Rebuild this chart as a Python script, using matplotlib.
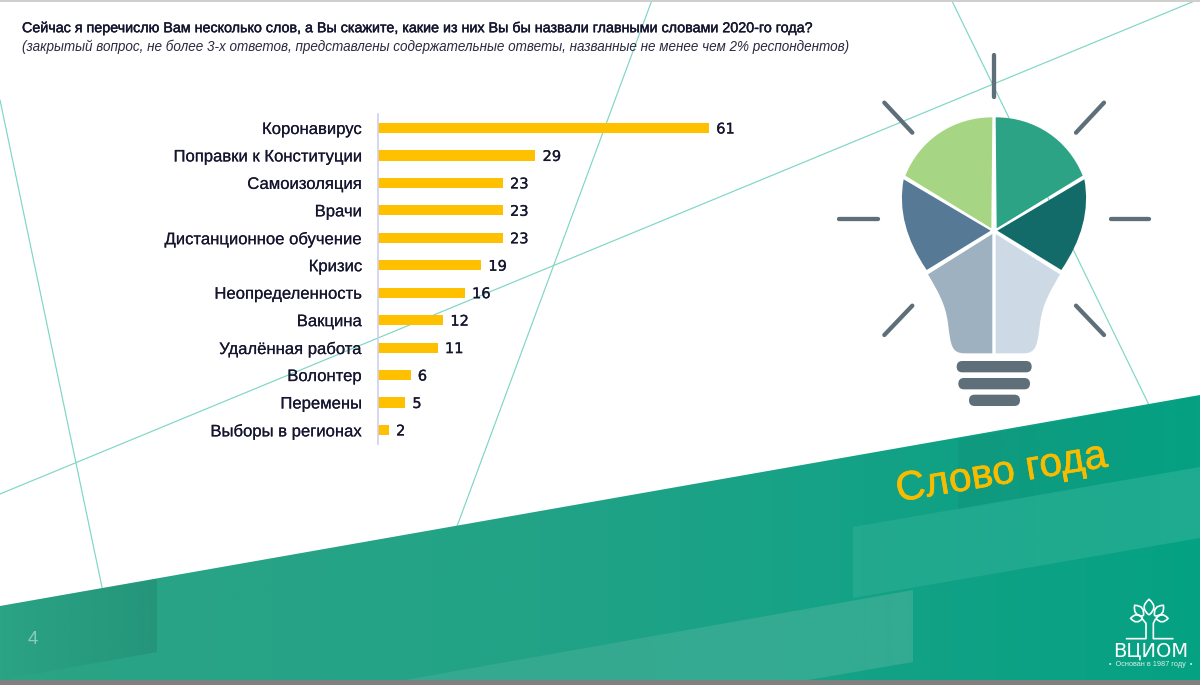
import numpy as np
import matplotlib
matplotlib.use("Agg")
import matplotlib.pyplot as plt
import matplotlib.patheffects as pe
from matplotlib.colors import to_rgb
from matplotlib.path import Path
from matplotlib.patches import PathPatch, Polygon, FancyBboxPatch

categories = ["Коронавирус", "Поправки к Конституции", "Самоизоляция", "Врачи",
              "Дистанционное обучение", "Кризис", "Неопределенность", "Вакцина",
              "Удалённая работа", "Волонтер", "Перемены", "Выборы в регионах"]
values = [61, 29, 23, 23, 23, 19, 16, 12, 11, 6, 5, 2]

title_main = "Сейчас я перечислю Вам несколько слов, а Вы скажите, какие из них Вы бы назвали главными словами 2020-го года?"
title_sub = "(закрытый вопрос, не более 3-х ответов, представлены содержательные ответы, названные не менее чем 2% респондентов)"
slide_word = "Слово года"

W, H = 1200, 685
plt.rcParams["font.family"] = ["Liberation Sans", "DejaVu Sans"]
fig = plt.figure(figsize=(12, 6.85), dpi=100, facecolor="white")
bg = fig.add_axes([0, 0, 1, 1], zorder=0)
bg.set_xlim(0, W); bg.set_ylim(H, 0); bg.axis("off")
INK = "#15152F"
semi = [pe.withStroke(linewidth=0.3, foreground=INK)]

def fade(poly, color, a0, a1, z, stops=None):
    """Horizontal gradient fill clipped to a polygon."""
    xs = [p[0] for p in poly]; ys = [p[1] for p in poly]
    t = np.linspace(0, 1, 256)
    img = np.zeros((1, 256, 4))
    if stops:
        pos = [s[0] for s in stops]
        for c in range(3):
            img[0, :, c] = np.interp(t, pos, [to_rgb(s[1])[c] for s in stops])
        img[0, :, 3] = 1
    else:
        img[0, :, :3] = to_rgb(color)
        img[0, :, 3] = a0 + (a1 - a0) * t
    clip = Polygon(poly, transform=bg.transData, fc="none", ec="none")
    bg.add_patch(clip)
    im = bg.imshow(img, extent=(min(xs), max(xs), max(ys), min(ys)), aspect="auto", zorder=z, interpolation="bilinear")
    im.set_clip_path(clip)

# thin decorative lines
LINE = "#7FD6C6"
for (x0, y0, x1, y1) in [(0, 100, 103, 592), (0, 494, 1197, 0), (652, 0, 456, 529), (951.5, 0, 1150, 407)]:
    bg.plot([x0, x1], [y0, y1], color=LINE, lw=0.85, zorder=1)

# top edge and green band
bg.add_patch(Polygon([(0, 0), (1200, 0), (1200, 2), (0, 2)], fc="#CFCFCF", ec="none", zorder=1.5))
fade([(0, 606), (1200, 395), (1200, 680), (0, 680)], None, 1, 1, 2,
     stops=[(0, "#2CA385"), (0.45, "#22A387"), (0.72, "#14A286"), (1, "#05A183")])
fade([(0, 606), (157, 579), (157, 652), (0, 680)], "#1F7F69", 0.0, 0.38, 2.2)
fade([(958, 439), (1200, 397), (1200, 467), (958, 510)], "#128A73", 0.32, 0.0, 2.2)
fade([(853, 527), (1200, 467), (1200, 538), (853, 598)], "#45BBA2", 0.3, 0.4, 2.3)
fade([(405, 680), (913, 590), (913, 662), (808, 680)], "#55B5A0", 0.35, 0.5, 2.3)
bg.add_patch(Polygon([(0, 680), (1200, 680), (1200, 685), (0, 685)], fc="#808080", ec="none", zorder=2.4))
bg.set_xlim(0, W); bg.set_ylim(H, 0)

bg.text(33, 639, "4", color="#8CCBBB", fontsize=13.5, ha="center", va="center", zorder=3)
bg.text(1002, 473, slide_word, color="#F7BC00", fontsize=29.3, rotation=9.5, rotation_mode="anchor",
        ha="center", va="center", zorder=3,
        path_effects=[pe.withStroke(linewidth=0.5, foreground="#F7BC00")])

# bulb drawn in zoom-space coordinates
def Z(x, y):
    return 820 + x / 3, 40 + y / 3
def M(p, mirror):
    return (1044 - p[0], p[1]) if mirror else p
def shape(pts, codes, color, mirror=False):
    v = [Z(*M(p, mirror)) for p in pts]
    bg.add_patch(PathPatch(Path(v, codes), fc=color, ec="none", zorder=4))
MV, C4, LT, CL = Path.MOVETO, Path.CURVE4, Path.LINETO, Path.CLOSEPOLY
top_pts = [(527, 232), (645, 232), (745, 300), (788, 407), (530, 565), (527, 232)]
top_c = [MV, C4, C4, C4, LT, CL]
mid_pts = [(793, 418), (810, 510), (785, 600), (724, 690), (532, 572), (793, 418)]
mid_c = [MV, C4, C4, C4, LT, CL]
low_pts = [(527, 582), (720, 703), (690, 755), (668, 790), (660, 850), (652, 915), (650, 940), (610, 940), (527, 940), (527, 582)]
low_c = [MV, LT, C4, C4, C4, C4, C4, C4, LT, CL]
shape(top_pts, top_c, "#2CA385"); shape(top_pts, top_c, "#A6D683", True)
shape(mid_pts, mid_c, "#126B69"); shape(mid_pts, mid_c, "#567995", True)
shape(low_pts, low_c, "#CDDAE5"); shape(low_pts, low_c, "#9DB1C0", True)

RAY = "#5F6F7A"
for a, b in [((522, 45), (522, 170)), ((58, 537), (175, 537)), ((872, 537), (988, 537)),
             ((193, 188), (277, 278)), ((852, 188), (768, 278)), ((277, 797), (193, 885)), ((768, 797), (852, 885))]:
    p, q = Z(*a), Z(*b)
    bg.plot([p[0], q[0]], [p[1], q[1]], color=RAY, lw=3.1, solid_capstyle="round", zorder=5)
for x0, x1, y0, y1 in [(410, 635, 963, 997), (415, 630, 1014, 1048), (447, 600, 1064, 1098)]:
    a, b = Z(x0, y0), Z(x1, y1)
    h = b[1] - a[1]
    bg.add_patch(FancyBboxPatch((a[0] + h / 2, a[1] + h / 2), b[0] - a[0] - h, 0.01,
                                boxstyle=f"round,pad={h/2},rounding_size={h/2}", fc=RAY, ec="none", zorder=5))

# logo
def L(x, y):
    return 1000 + x / 3, 560 + y / 3
def leaf(x0, y0, x1, y1, bulge):
    dx, dy = x1 - x0, y1 - y0
    mx, my = (x0 + x1) / 2, (y0 + y1) / 2
    nx, ny = -dy * bulge, dx * bulge
    pts = [L(x0, y0), L(mx + nx, my + ny), L(x1, y1), L(mx - nx, my - ny), L(x0, y0)]
    bg.add_patch(PathPatch(Path(pts, [MV, Path.CURVE3, Path.CURVE3, Path.CURVE3, Path.CURVE3]),
                           fc="none", ec="white", lw=1.2, zorder=6))
leaf(447, 165, 447, 118, 0.62)
leaf(430, 168, 404, 136, 0.6)
leaf(464, 168, 490, 136, 0.6)
leaf(428, 175, 392, 175, 0.6)
leaf(468, 175, 504, 175, 0.6)
for pts in ([(428, 178), (438, 190), (438, 236), (380, 236)], [(466, 178), (460, 190), (460, 236), (518, 236)]):
    xy = [L(*p) for p in pts]
    bg.plot([p[0] for p in xy], [p[1] for p in xy], color="white", lw=1.2, zorder=6)
bg.text(*L(452, 273), "ВЦИОМ", color="white", fontsize=14, ha="center", va="center", zorder=6, fontfamily="DejaVu Sans")
bg.text(*L(452, 315), "•  Основан в 1987 году  •", color="#D5F0E8", fontsize=5.3, ha="center", va="center", zorder=6)

# title
bg.text(22, 28, title_main, color=INK, fontsize=10.3, ha="left", va="center", zorder=7, path_effects=semi)
bg.text(22, 47, title_sub, color="#2A2A40", fontsize=9.75, style="italic", ha="left", va="center", zorder=7)

# chart
STEP, X0, PXU = 27.45, 378, 5.426
top = 128 - STEP / 2
ax_h = STEP * len(categories)
ax_w = 420
ax = fig.add_axes([X0 / W, 1 - (top + ax_h) / H, ax_w / W, ax_h / H], zorder=3)
ax.patch.set_alpha(0)
y = list(range(len(categories)))
bars = ax.barh(y, values, height=0.37, color="#FFC000")
ax.set_xlim(0, ax_w / PXU)
ax.set_ylim(len(categories) - 0.5, -0.5)
ax.set_yticks(y, categories)
ax.set_xticks([])
ax.tick_params(axis="y", length=0, pad=11.5, labelsize=12, labelcolor=INK)
for lab in ax.get_yticklabels():
    lab.set_path_effects([pe.withStroke(linewidth=0.1, foreground=INK)])
for s in ["top", "right", "bottom"]:
    ax.spines[s].set_visible(False)
ax.spines["left"].set_color("#CFCFF0")
ax.spines["left"].set_linewidth(1.2)
texts = ax.bar_label(bars, labels=[str(v) for v in values], padding=5.2, fontsize=10.5,
                     color=INK, fontfamily="DejaVu Sans")
for t in texts:
    t.set_verticalalignment("center")
    t.xyann = (5.2, -0.7)
    t.set_path_effects([pe.withStroke(linewidth=0.2, foreground=INK)])

fig.savefig("out.png", dpi=100)
